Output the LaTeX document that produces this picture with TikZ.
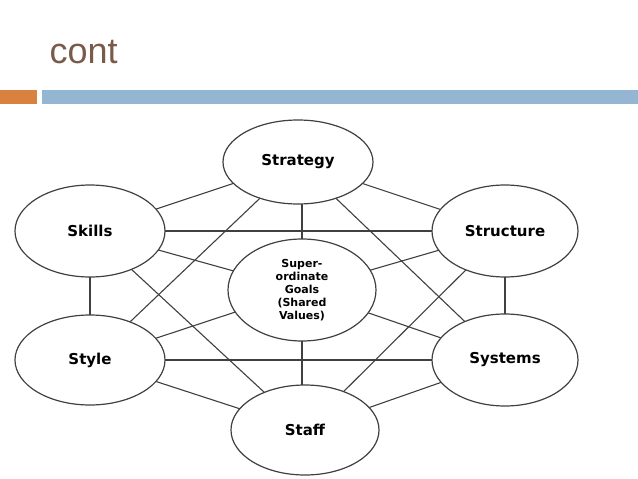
\documentclass[tikz,border=0pt]{standalone}
\usepackage{fontspec}
\setmainfont{DejaVu Sans}
\newfontfamily\titlefont{Liberation Sans}
\usetikzlibrary{shapes.geometric}
\definecolor{titlebrown}{HTML}{7A5A48}
\definecolor{barorange}{HTML}{D9813F}
\definecolor{barblue}{HTML}{94B6D2}
\tikzset{
  sev/.style={ellipse, draw=black!75, line width=1.2pt, fill=white, minimum width=150pt, minimum height=88pt, inner sep=0pt, align=center, font=\bfseries\fontsize{15}{17}\selectfont},
  link/.style={draw=black!75, line width=1.1pt}
}
\begin{document}
\begin{tikzpicture}[x=1pt,y=-1pt]
\useasboundingbox (0,0) rectangle (638,479);
\node[anchor=west, text=titlebrown, font=\titlefont\fontsize{36}{40}\selectfont] (title) at (46,52) {cont};
\fill[barorange] (0,90) rectangle (37,104);
\fill[barblue] (42,90) rectangle (638,104);
\coordinate (pstr) at (298,162);
\coordinate (pski) at (90,231);
\coordinate (pstu) at (505,231);
\coordinate (pcen) at (302,290);
\coordinate (psty) at (90,360);
\coordinate (psys) at (505,360);
\coordinate (psta) at (305,430);
\foreach \a/\b in {pstr/pski,pstr/pstu,pstr/psty,pstr/psys,pski/pstu,pski/pcen,pski/psty,pski/psta,pstu/pcen,pstu/psys,pstu/psta,psty/pcen,psty/psys,psty/psta,psys/pcen,psys/psta}
  \draw[link] (\a) -- (\b);
\draw[link] (302,162) -- (302,430);
\node[sev, minimum height=84pt] (strategy) at (pstr) {Strategy};
\node[sev, minimum height=92pt] (skills) at (pski) {Skills};
\node[sev, minimum width=146pt, minimum height=92pt] (structure) at (pstu) {Structure};
\node[sev, minimum width=148pt, minimum height=102pt, font=\bfseries\fontsize{11}{13}\selectfont] (center) at (pcen) {Super-\\ordinate\\Goals\\(Shared\\Values)};
\node[sev, minimum height=90pt] (style) at (psty) {Style};
\node[sev, minimum width=146pt, minimum height=92pt] (systems) at (psys) {Systems};
\node[sev, minimum width=148pt, minimum height=90pt] (staff) at (psta) {Staff};
\end{tikzpicture}
\end{document}
